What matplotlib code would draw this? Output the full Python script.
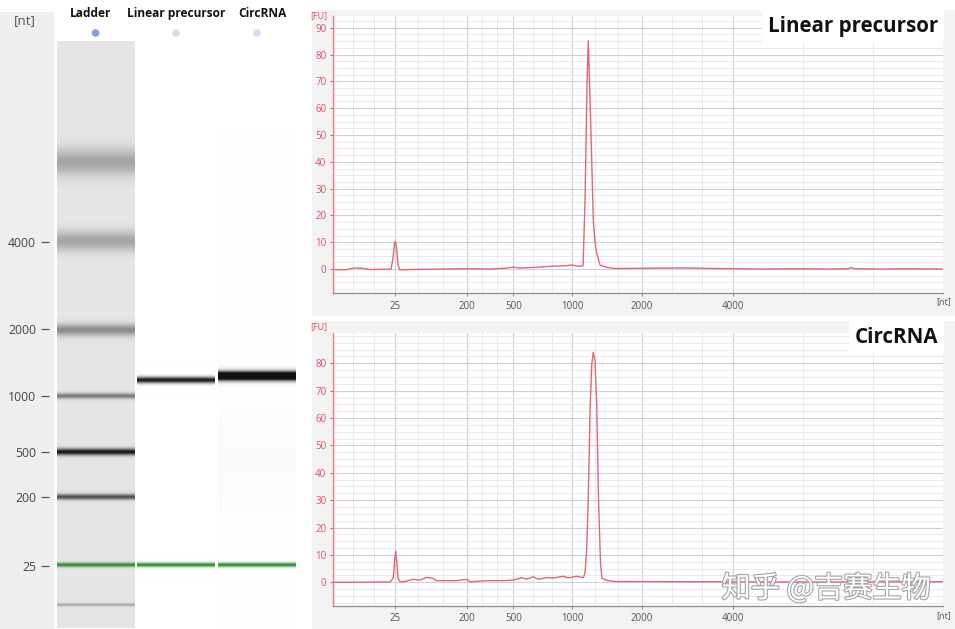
import numpy as np
import matplotlib
matplotlib.use("Agg")
import matplotlib.pyplot as plt
from matplotlib.patches import Rectangle
import matplotlib.patheffects as pe

plt.rcParams['font.family'] = ['Open Sans', 'DejaVu Sans']

# ---------------- data ----------------
size_labels = ["25", "200", "500", "1000", "2000", "4000"]
size_time = [24.10, 29.98, 33.80, 38.63, 44.32, 51.77]          # migration time (s)
grid_minor_time = [20.64, 22.41, 26.01, 28.06, 31.21, 32.44, 35.43, 36.94,
                   40.49, 42.40, 46.77, 49.23, 57.51, 63.29]
lane_names = ["Ladder", "Linear precursor", "CircRNA"]

# gel bands: migration time, intensity, width (s), is_marker(green)
ladder_band_time = [20.73, 24.15, 29.96, 33.81, 38.60, 44.24, 51.85, 58.60]
ladder_band_int = [0.30, 1.00, 0.70, 0.97, 0.50, 0.42, 0.30, 0.30]
ladder_band_width = [0.09, 0.13, 0.17, 0.20, 0.17, 0.35, 0.60, 0.80]
ladder_band_marker = [False, True, False, False, False, False, False, False]

linear_band_time = [24.15, 39.96]
linear_band_int = [1.00, 0.97]
linear_band_width = [0.13, 0.19]
linear_band_marker = [True, False]

circ_band_time = [24.15, 40.31, 33.0]
circ_band_int = [1.00, 1.60, 0.018]
circ_band_width = [0.13, 0.27, 3.5]
circ_band_marker = [True, False, False]

# electropherogram traces (migration time s, FU)
lin_t = [19.00, 20.01, 20.83, 21.40, 22.06, 23.28, 23.78, 23.94, 24.06, 24.14,
         24.23, 24.35, 24.51, 25.33, 27.79, 30.23, 31.87, 33.12, 33.77, 34.35,
         35.57, 36.80, 38.03, 38.61, 39.10, 39.51, 39.67, 39.84, 39.94, 40.04,
         40.22, 40.35, 40.49, 40.63, 40.90, 41.47, 42.13, 44.99, 47.45, 49.09,
         50.73, 54.00, 57.28, 59.74, 61.21, 61.46, 61.79, 63.83, 66.29, 69.00]
lin_fu = [-0.2, -0.3, 0.4, 0.3, -0.2, -0.1, 0.0, 4.0, 9.5, 10.2,
          8.0, 1.5, -0.3, -0.2, 0.0, 0.1, 0.0, 0.3, 0.7, 0.4,
          0.6, 1.0, 1.2, 1.5, 1.0, 1.2, 25.0, 70.0, 85.2, 70.0,
          40.7, 18.0, 10.0, 5.9, 1.5, 0.6, 0.2, 0.3, 0.4, 0.3,
          0.2, 0.0, 0.1, 0.0, 0.1, 0.5, 0.1, 0.0, 0.1, 0.0]

circ_t = [19.00, 21.24, 22.47, 23.69, 23.96, 24.08, 24.16, 24.24, 24.35, 24.51,
          24.92, 25.60, 26.15, 26.70, 27.14, 27.52, 29.16, 29.98, 30.25, 31.62,
          32.98, 33.80, 34.48, 34.89, 35.43, 35.84, 36.53, 37.07, 37.89, 38.30,
          38.99, 39.53, 39.67, 39.81, 39.94, 40.08, 40.22, 40.35, 40.49, 40.63,
          40.78, 40.94, 41.06, 41.45, 42.13, 49.09, 57.28, 69.00]
circ_fu = [0.0, 0.0, 0.1, 0.1, 1.5, 8.0, 11.4, 8.0, 1.5, 0.2,
           0.3, 1.1, 0.8, 1.8, 1.5, 0.6, 0.6, 1.1, 0.2, 0.6,
           0.6, 0.8, 1.7, 1.1, 2.0, 1.1, 1.7, 1.6, 2.2, 1.6,
           2.2, 1.7, 3.3, 12.0, 31.0, 62.0, 79.5, 84.0, 81.2, 65.0,
           30.0, 7.0, 1.5, 0.7, 0.3, 0.2, 0.1, 0.2]

# ---------------- figure ----------------
W, H = 955, 629
fig = plt.figure(figsize=(W / 100, H / 100), dpi=100)
fig.patch.set_facecolor('white')


def fx(px):
    return px / W


def fy(py):
    return 1 - py / H


# background panels
fig.add_artist(Rectangle((0, 0), fx(54), fy(12), transform=fig.transFigure,
                         fc='#efefef', ec='none', zorder=-2))
fig.add_artist(Rectangle((fx(312), fy(316)), fx(955 - 312), (316 - 10) / H,
                         transform=fig.transFigure, fc='#f3f3f3', ec='none', zorder=-2))
fig.add_artist(Rectangle((fx(312), 0), fx(955 - 312), fy(321),
                         transform=fig.transFigure, fc='#f3f3f3', ec='none', zorder=-2))

# ---------------- gel ----------------
gel_ylim = (18.76, 68.94)
ax_gel = fig.add_axes([fx(57), fy(628), fx(296 - 57), (628 - 41) / H])
ax_gel.set_xlim(0, 3)
ax_gel.set_ylim(*gel_ylim)
ax_gel.axis('off')

s = np.linspace(gel_ylim[0], gel_ylim[1], 1400)
green_rgb = np.array([0.16, 0.55, 0.16])


def lane_rgb(times, ints, widths, markers, bg):
    dark = np.zeros_like(s)
    grn = np.zeros_like(s)
    for t, a, w, m in zip(times, ints, widths, markers):
        prof = a * np.exp(-0.5 * ((s - t) / w) ** 2)
        if m:
            grn += prof
        else:
            dark += prof
    dark = np.clip(dark, 0, 1)
    grn = np.clip(grn, 0, 1)
    base = np.array(bg)[None, :] * (1 - 0.93 * dark)[:, None]
    rgb = base * (1 - grn)[:, None] + green_rgb[None, :] * grn[:, None]
    return rgb[:, None, :]


lane_extent = [(0.0, 0.967), (1.004, 1.983), (2.021, 3.0)]
lanes = [
    (ladder_band_time, ladder_band_int, ladder_band_width, ladder_band_marker, (0.90, 0.90, 0.90)),
    (linear_band_time, linear_band_int, linear_band_width, linear_band_marker, (1.0, 1.0, 1.0)),
    (circ_band_time, circ_band_int, circ_band_width, circ_band_marker, (1.0, 1.0, 1.0)),
]
for (x0, x1), ln in zip(lane_extent, lanes):
    img = lane_rgb(*ln)
    ax_gel.imshow(img, origin='lower', aspect='auto', interpolation='bilinear',
                  extent=(x0, x1, gel_ylim[0], gel_ylim[1]))

# gel size scale
ax_sc = fig.add_axes([fx(49.3), fy(628), fx(57 - 49.3), (628 - 41) / H])
ax_sc.set_ylim(*gel_ylim)
ax_sc.set_xticks([])
ax_sc.patch.set_visible(False)
for sp in ax_sc.spines.values():
    sp.set_visible(False)
ax_sc.set_yticks(size_time, size_labels)
ax_sc.tick_params(axis='y', direction='out', length=5.6, width=0.9, color='#555555',
                  pad=4.0, labelsize=8.8, labelcolor='#444444')

# headers
header_x = [91, 176, 262]
for hx, name in zip(header_x, lane_names):
    fig.text(fx(hx), fy(17.3), name, ha='center', va='baseline', fontsize=8.6,
             fontweight='bold', color='#111111')
fig.text(fx(25), fy(20.5), '[nt]', ha='center', va='center', fontsize=9.5, color='#555555')

dot_colors = ['#7d9fe6', '#dcd7f3', '#dcd7f3']
dot_y = gel_ylim[1] + 8 / 11.7
ax_gel.scatter([(a + b) / 2 for a, b in lane_extent], [dot_y] * 3, s=30,
               c=dot_colors, clip_on=False, linewidths=0)

# ---------------- electropherograms ----------------
red = '#e2525f'


def ep_axes(rect, t, fu, ylim, ymax_tick, title, title_baseline, fu_y, nt_y):
    ax = fig.add_axes(rect)
    ax.set_xlim(19, 69)
    ax.set_ylim(*ylim)
    ax.set_facecolor('white')
    ax.set_xticks(size_time, size_labels)
    ax.set_xticks(grid_minor_time, minor=True)
    ax.set_yticks(np.arange(0, ymax_tick + 1, 10))
    ax.set_yticks(np.arange(-7.5, ylim[1], 2.5), minor=True)
    ax.grid(which='major', color='#d0d1d8', lw=0.8)
    ax.grid(which='minor', color='#e9e9ee', lw=0.7)
    ax.set_axisbelow(True)
    for side in ('top', 'right'):
        ax.spines[side].set_visible(False)
    ax.spines['left'].set_color('#ea7a84')
    ax.spines['left'].set_linewidth(1.0)
    ax.spines['bottom'].set_color('#8c8c8c')
    ax.spines['bottom'].set_linewidth(0.9)
    ax.tick_params(axis='x', which='major', length=2.5, width=0.7, color='#8c8c8c',
                   labelsize=7, labelcolor='#555555', pad=3)
    ax.tick_params(axis='y', which='major', length=2.5, width=0.7, color=red,
                   labelsize=7, labelcolor=red, pad=2)
    ax.tick_params(which='minor', length=0)
    ax.plot(t, fu, color='#e8646f', lw=1.0)
    fig.text(fx(319), fy(fu_y), '[FU]', ha='center', va='center', fontsize=6.5, color=red)
    fig.text(fx(943.5), fy(nt_y), '[nt]', ha='center', va='center', fontsize=6.5, color='#555555')
    fig.text(fx(938), fy(title_baseline), title, ha='right', va='baseline',
             fontsize=14.8, fontweight='bold', color='#111111',
             bbox=dict(fc='white', ec='none', pad=4))
    return ax


ep_axes([fx(332.7), fy(293), fx(943 - 332.7), (293 - 16) / H], lin_t, lin_fu,
        (-8.95, 94.4), 90, 'Linear precursor', 31.7, 16, 301.5)
ep_axes([fx(332.7), fy(605.7), fx(943 - 332.7), (605.7 - 333.3) / H], circ_t, circ_fu,
        (-8.55, 90.96), 80, 'CircRNA', 342.7, 327, 615.5)

# watermark
fig.text(fx(826), fy(589), '知乎 @吉赛生物', ha='center', va='center', fontsize=21,
         family=['Noto Sans CJK SC', 'DejaVu Sans'], color='white',
         path_effects=[pe.withStroke(linewidth=1.6, foreground='#a4a4a4')])

fig.savefig('out.png', dpi=100)
